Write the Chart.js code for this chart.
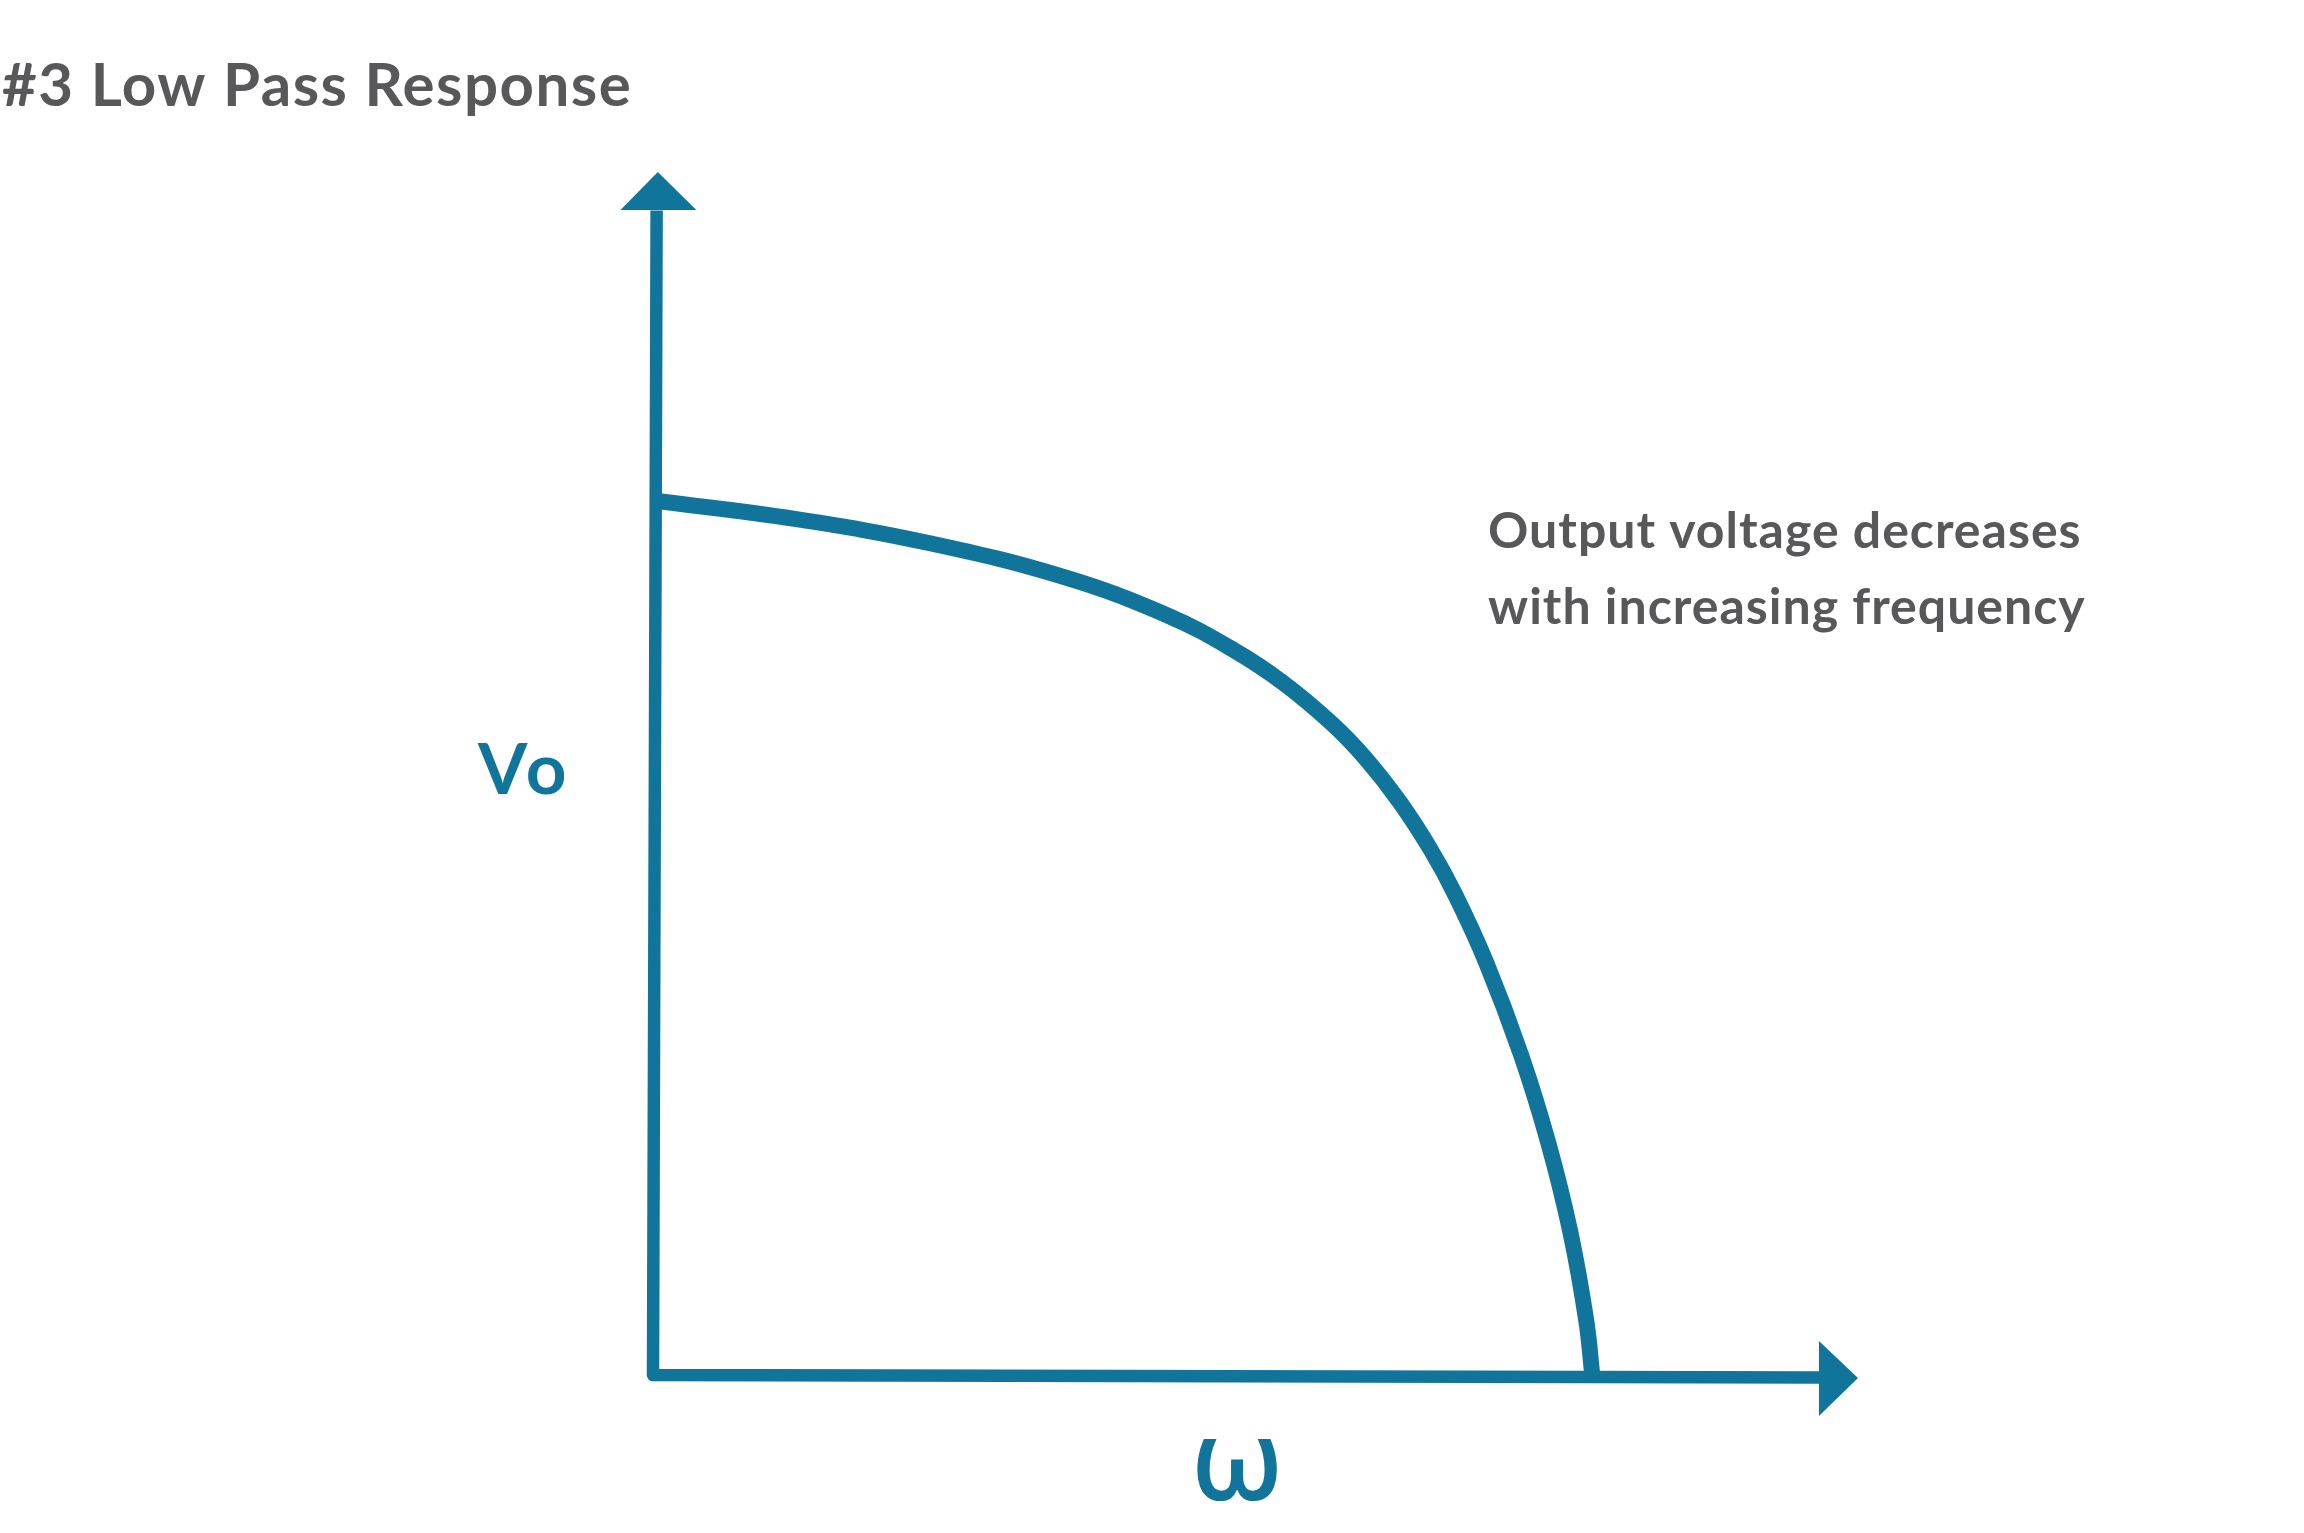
<!DOCTYPE html>
<html>
<head>
<meta charset="utf-8">
<script src="https://cdn.jsdelivr.net/npm/chart.js@4.4.0/dist/chart.umd.min.js"></script>
<style>
  html, body { margin: 0; padding: 0; background: #fff; }
  #wrap { width: 2304px; height: 1533px; }
</style>
</head>
<body>
<div id="wrap"><canvas id="myChart" width="2304" height="1533"></canvas></div>
<script>
// response curve (x = frequency, y = output voltage, both 0..100)
const curveX = [0.33, 11.77, 22.88, 34.07, 42.63, 48.15, 52.30, 56.37, 59.24, 62.00, 64.57, 66.59, 69.14, 72.04, 74.30, 76.13, 77.45, 77.95];
const curveY = [72.65, 71.16, 69.16, 66.34, 63.17, 60.29, 57.54, 54.12, 51.13, 47.59, 43.62, 39.89, 34.30, 26.60, 19.29, 11.87, 4.51, 0.00];

// axes: y axis top -> origin -> x axis end
const axisX = [0.3, 0.0, 96.8];
const axisY = [96.8, 0.0, -0.2];

// arrow heads (triangles)
const arrowUpX = [0.4, -2.7, 3.6];
const arrowUpY = [100, 96.85, 96.85];
const arrowRightX = [100, 96.76, 96.76];
const arrowRightY = [-0.25, 2.83, -3.4];

const titleText = '#3 Low Pass Response';
const yLabel = 'Vo';
const xLabel = 'ω';
const noteLines = ['Output voltage decreases', 'with increasing frequency'];

const teal = '#11759b';
const grey = '#58585a';

function pts(xs, ys) {
  return xs.map((x, i) => ({ x: x, y: ys[i] }));
}

// arrow heads drawn through the chart's own scales
const arrowPlugin = {
  id: 'arrows',
  afterDatasetsDraw(chart) {
    const c = chart.ctx;
    const sx = chart.scales.x, sy = chart.scales.y;
    c.save();
    c.fillStyle = teal;
    [[arrowUpX, arrowUpY], [arrowRightX, arrowRightY]].forEach(function (a) {
      c.beginPath();
      a[0].forEach(function (v, i) {
        const px = sx.getPixelForValue(v), py = sy.getPixelForValue(a[1][i]);
        if (i === 0) c.moveTo(px, py); else c.lineTo(px, py);
      });
      c.closePath();
      c.fill();
    });
    c.restore();
  }
};

const textPlugin = {
  id: 'texts',
  afterDraw(chart) {
    const c = chart.ctx;
    c.save();
    c.textBaseline = 'alphabetic';
    c.textAlign = 'left';

    c.fillStyle = grey;
    c.font = 'bold 60px Lato';
    c.letterSpacing = '1.5px';
    c.fillText(titleText, 2, 106);

    c.font = 'bold 50px Lato';
    c.letterSpacing = '1px';
    c.fillText(noteLines[0], 1488, 548);
    c.fillText(noteLines[1], 1488, 624);

    c.fillStyle = teal;
    c.font = 'bold 71px Lato';
    c.letterSpacing = '4px';
    c.fillText(yLabel, 478, 794);

    c.letterSpacing = '0px';
    c.textAlign = 'center';
    c.font = '600 112px "Open Sans"';
    c.fillText(xLabel, 1237, 1500);
    c.restore();
  }
};

document.addEventListener('DOMContentLoaded', function () {
  const ctx = document.getElementById('myChart').getContext('2d');
  const myChart = new Chart(ctx, {
    type: 'scatter',
    data: {
      datasets: [
        {
          label: 'axes',
          data: pts(axisX, axisY),
          showLine: true,
          borderColor: teal,
          borderWidth: 12.5,
          borderJoinStyle: 'round',
          tension: 0,
          pointRadius: 0,
          clip: false
        },
        {
          label: 'Vo',
          data: pts(curveX, curveY),
          showLine: true,
          borderColor: teal,
          borderWidth: 16,
          borderCapStyle: 'butt',
          tension: 0.4,
          pointRadius: 0,
          clip: false
        }
      ]
    },
    options: {
      responsive: false,
      animation: false,
      devicePixelRatio: 1,
      layout: {
        padding: { left: 653, right: 446, top: 172, bottom: 158 }
      },
      scales: {
        x: { type: 'linear', min: 0, max: 100, display: false },
        y: { type: 'linear', min: 0, max: 100, display: false }
      },
      plugins: {
        legend: { display: false },
        tooltip: { enabled: false }
      }
    },
    plugins: [arrowPlugin, textPlugin]
  });
});
</script>
</body>
</html>
